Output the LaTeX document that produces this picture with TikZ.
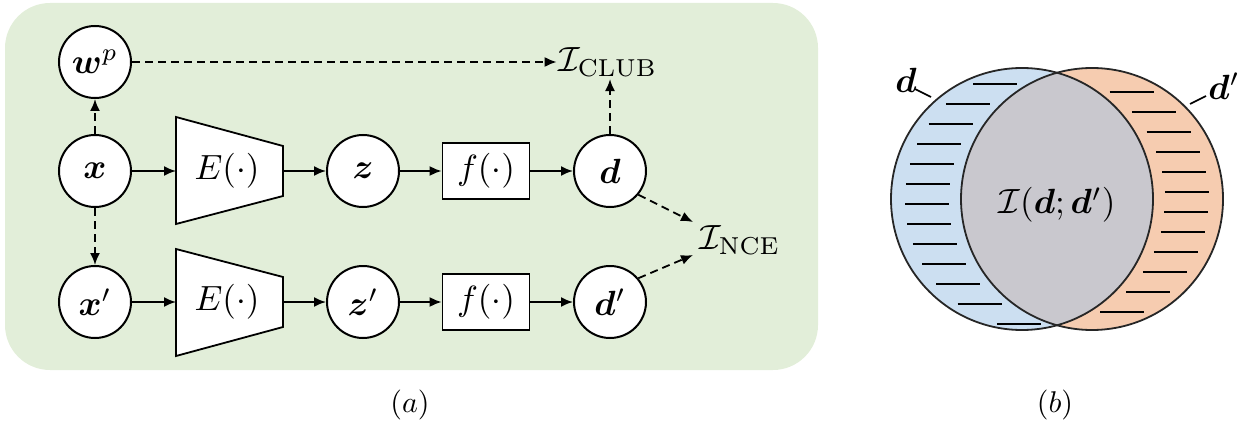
\documentclass[tikz,border=0pt]{standalone}
\usepackage{amsmath,bm}
\usetikzlibrary{arrows.meta}
\newcommand{\T}[1]{\scalebox{3.5}{#1}}
\begin{document}
\begin{tikzpicture}[x=1pt,y=-1pt,
  var/.style={circle,draw,line width=2pt,fill=white,minimum size=72pt,inner sep=0pt},
  fbox/.style={draw,line width=1.8pt,fill=white,minimum width=87pt,minimum height=56pt,inner sep=0pt},
  arr/.style={-{Latex[length=12pt,width=10pt]},line width=1.8pt},
  darr/.style={arr,dash pattern=on 8pt off 5pt},
  trap/.style={draw,line width=1.8pt,fill=white,line join=miter}]
\useasboundingbox (0,0) rectangle (1246,422);
\definecolor{panel}{RGB}{226,238,217}
\definecolor{vblue}{RGB}{204,223,241}
\definecolor{vorange}{RGB}{246,204,176}
\definecolor{vgray}{RGB}{201,200,206}
\fill[panel,rounded corners=45pt] (5,3) rectangle (818,370);
% nodes
\node[var] (wp) at (95,62) {\T{$\bm{w}^p$}};
\node[var] (x) at (95,171) {\T{$\bm{x}$}};
\node[var] (xp) at (95,302) {\T{$\bm{x}'$}};
\draw[trap] (176,117) -- (283,146) -- (283,196) -- (176,224) -- cycle;
\draw[trap] (176,249) -- (283,277) -- (283,327) -- (176,356) -- cycle;
\node (E1) at (227,171) {\T{$E(\cdot)$}};
\node (E2) at (227,302) {\T{$E(\cdot)$}};
\coordinate (E1l) at (176,171); \coordinate (E1r) at (283,171);
\coordinate (E2l) at (176,302); \coordinate (E2r) at (283,302);
\node[var] (z) at (363,171) {\T{$\bm{z}$}};
\node[var] (zp) at (363,302) {\T{$\bm{z}'$}};
\node[fbox] (f1) at (486,171) {\T{$f(\cdot)$}};
\node[fbox] (f2) at (486,302) {\T{$f(\cdot)$}};
\node[var] (d) at (610,171) {\T{$\bm{d}$}};
\node[var] (dp) at (610,302) {\T{$\bm{d}'$}};
\node[inner sep=2pt] (club) at (608,62) {\T{$\mathcal{I}_{\text{CLUB}}$}};
\node[inner sep=2pt] (nce) at (740,240) {\T{$\mathcal{I}_{\text{NCE}}$}};
\draw[arr] (x) -- (E1l); \draw[arr] (E1r) -- (z); \draw[arr] (z) -- (f1); \draw[arr] (f1) -- (d);
\draw[arr] (xp) -- (E2l); \draw[arr] (E2r) -- (zp); \draw[arr] (zp) -- (f2); \draw[arr] (f2) -- (dp);
\draw[darr] (x) -- (wp);
\draw[darr] (x) -- (xp);
\draw[darr] (wp) -- (club.west);
\draw[darr] (d) -- (club.south -| d);
\coordinate (n1) at (693,222); \coordinate (n2) at (693,255);
\draw[darr] (d.-40) -- (n1);
\draw[darr] (dp.40) -- (n2);
\node (la) at (410,405) {\scalebox{3}{$(a)$}};
% Venn
\fill[vblue] (1022,199) circle (131);
\fill[vorange] (1092,199) circle (131);
\begin{scope}
\clip (1022,199) circle (131);
\fill[vgray] (1092,199) circle (131);
\end{scope}
\foreach \yy in {84,104,...,324} {
  \pgfmathsetmacro{\s}{100*sqrt(1.7161-((\yy-199)/100)^2)}
  \draw[line width=1.8pt] ({1022-\s+14},\yy) -- ({1092-\s-12},\yy);
}
\foreach \yy in {84,104,...,304} {
  \pgfmathsetmacro{\s}{100*sqrt(1.7161-((\yy+8-199)/100)^2)}
  \draw[line width=1.8pt] ({1022+\s+12},\yy+8) -- ({1092+\s-14},\yy+8);
}
\draw[line width=1.8pt,black!85] (1092,199) circle (131);
\draw[line width=1.8pt,black!85] (1022,199) circle (131);
\node (I) at (1057,205) {\T{$\mathcal{I}(\bm{d};\bm{d}')$}};
\node (vd) at (906,80) {\T{$\bm{d}$}};
\node (vdp) at (1224,86) {\T{$\bm{d}'$}};
\draw[line width=1.6pt] (915,89) -- (931,97);
\draw[line width=1.6pt] (1206,96) -- (1190,104);
\node (lb) at (1055,405) {\scalebox{3}{$(b)$}};
\end{tikzpicture}
\end{document}
